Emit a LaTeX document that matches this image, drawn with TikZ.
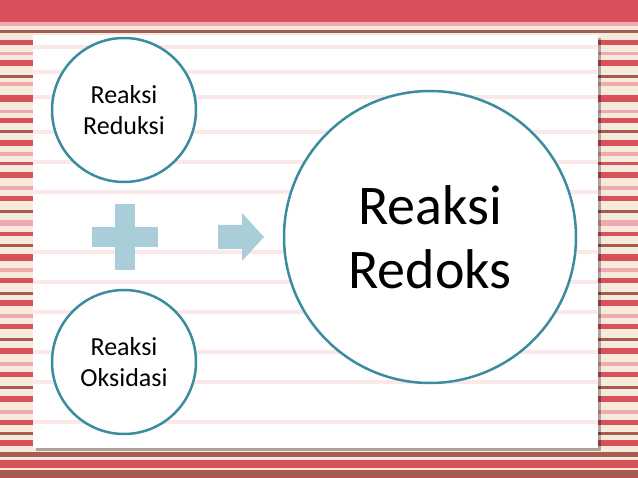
\documentclass[tikz,border=0pt]{standalone}
\usepackage{fontspec}
\setmainfont{Carlito}
\begin{document}
\begin{tikzpicture}[x=1pt,y=-1pt,
  circ/.style={circle,draw=ringc,line width=2.5pt,fill=white},
  shp/.style={fill=shapec,draw=none}]
\definecolor{ringc}{RGB}{60,140,160}
\definecolor{shapec}{RGB}{170,205,218}
\definecolor{redb}{RGB}{215,80,90}
\definecolor{pinkb}{RGB}{240,170,175}
\definecolor{creamb}{RGB}{245,235,220}
\definecolor{brownb}{RGB}{170,90,80}
\useasboundingbox (0,0) rectangle (638,478);
\fill[creamb] (0,0) rectangle (638,478);
\foreach \y/\h/\c in {0/22/redb,22/4/pinkb,30/3/brownb,40/5/redb,52/3/pinkb,60/6/redb,75/3/brownb,82/4/pinkb,95/7/redb,110/3/pinkb,118/5/redb,130/3/brownb,140/6/redb,152/4/pinkb,162/3/redb,172/6/redb,186/4/pinkb,196/5/redb,210/3/brownb,220/6/pinkb,232/4/redb,244/3/brownb,254/7/redb,268/4/pinkb,278/5/redb,292/3/brownb,300/6/redb,314/4/pinkb,324/5/redb,338/3/brownb,348/6/redb,362/4/pinkb,372/5/redb,386/3/brownb,396/6/redb,410/4/pinkb,420/5/redb,432/3/brownb,440/6/redb,452/5/brownb,460/8/redb,470/8/brownb}
  \fill[\c] (0,\y) rectangle (638,\y+\h);
\fill[black,opacity=0.3] (36,38) rectangle (601,451);
\fill[white] (33,35) rectangle (598,448);
\foreach \y in {45,70,95,130,160,190,250,280,310,350,380,420}
  \fill[pinkb,opacity=0.25] (33,\y) rectangle (598,\y+4);
\node[circ,minimum size=144pt,align=center,font=\fontsize{26}{31}\selectfont] (red) at (124,110) {Reaksi\\Reduksi};
\node[circ,minimum size=144pt,align=center,font=\fontsize{26}{31}\selectfont] (oks) at (124,362) {Reaksi\\Oksidasi};
\node[circ,minimum size=292pt,align=center,font=\fontsize{56}{64}\selectfont] (redoks) at (430,237) {Reaksi\\Redoks};
\node (plus) at (125,237) {};
\fill[shapec] (plus.center) ++(-33,-10) rectangle ++(66,20);
\fill[shapec] (plus.center) ++(-10,-33) rectangle ++(20,66);
\node (arr) at (240,237) {};
\fill[shapec] (arr.center) ++(-22,-12) -- ++(24,0) -- ++(0,-12) -- ++(22,24) -- ++(-22,24) -- ++(0,-12) -- ++(-24,0) -- cycle;
\end{tikzpicture}
\end{document}
